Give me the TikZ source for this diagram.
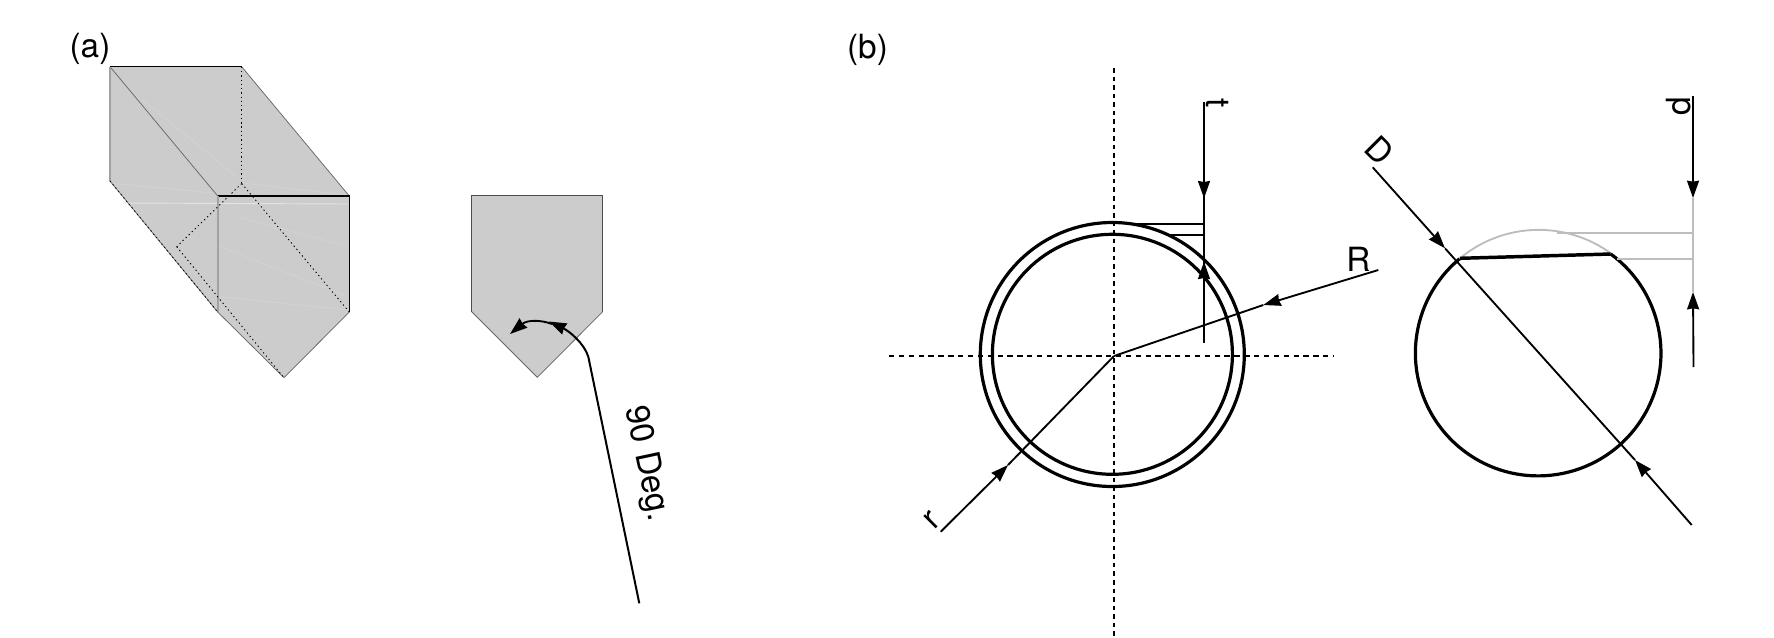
\documentclass[tikz,border=0pt]{standalone}
\usepackage{fontspec}
\setmainfont{TeX Gyre Heros}
\usetikzlibrary{arrows.meta}
\definecolor{solidgray}{HTML}{CCCCCC}
\definecolor{streak}{HTML}{D2D2D2}
\definecolor{edgegray}{HTML}{666666}
\definecolor{lightrule}{HTML}{BDBDBD}
\tikzset{
  lab/.style={inner sep=0pt,font=\fontsize{25}{29}\selectfont},
  body/.style={fill=solidgray,draw=none},
  thinedge/.style={draw=edgegray,line width=0.55pt},
  blackedge/.style={draw=black,line width=0.8pt},
  dots/.style={draw=black,line width=0.65pt,dash pattern=on 1pt off 2.2pt},
  streakline/.style={draw=streak,line width=0.7pt},
  centreh/.style={draw=black,line width=1.5pt,dash pattern=on 4pt off 3.4pt},
  centrev/.style={draw=black,line width=1.6pt,dash pattern=on 3.4pt off 3pt},
  ring/.style={draw=black,line width=2.4pt},
  dim/.style={draw=black,line width=1.4pt},
  tip/.style={-{Stealth[inset=0.8pt,length=13pt,width=9pt]}},
  hair/.style={draw=black,line width=1.2pt},
  ghost/.style={draw=lightrule,line width=1.4pt},
}
\begin{document}
\begin{tikzpicture}[x=0.75pt,y=-0.75pt]
\useasboundingbox (0,0) rectangle (1774,637);
\fill[white] (0,0) rectangle (1774,637);
% ---------- (a) prism
\node[lab] (la) at (90,49) {(a)};
\coordinate (A) at (110,66.7);
\coordinate (B) at (241.7,66.7);
\coordinate (C) at (217.7,196);
\coordinate (Dd) at (349.3,196);
\coordinate (E) at (110,181);
\coordinate (F) at (349.3,312);
\coordinate (G) at (284,377.7);
\coordinate (H) at (217.7,312);
\coordinate (I) at (241.7,183.5);
\coordinate (J) at (176.7,246.7);
\path[body] (A) -- (B) -- (Dd) -- (F) -- (G) -- (H) -- (E) -- cycle;
\draw[streakline] (111.7,183.3) -- (216.7,193.3);
\draw[streakline,draw=streak!60!white] (123,203) -- (348,204);
\draw[streakline] (243,183) -- (348,195);
\draw[streakline] (237,216.7) -- (348,246.7);
\draw[streakline] (220,246.7) -- (348,296.7);
\draw[streakline] (220,296.7) -- (348,310);
\draw[streakline] (143,100) -- (237,177);
\draw[thinedge] (A) -- (C);
\draw[thinedge] (B) -- (Dd);
\draw[blackedge] (A) -- (B);
\draw[blackedge] (C) -- (Dd) -- (F);
\draw[draw=lightrule!85!black,line width=1pt] (A) -- (E);
\draw[draw=lightrule!85!black,line width=1.2pt] (C) -- (H);
\draw[thinedge] (F) -- (G) -- (H) -- (E);
\draw[dots] (B) -- (I);
\draw[dots] (I) -- (J);
\draw[dots] (I) -- (F);
\draw[dots] (J) -- (G);
\draw[dots] (E) -- (H);
% ---------- (a) end view
\coordinate (P1) at (471.7,195);
\coordinate (P2) at (602.7,195);
\coordinate (P3) at (602.7,311.7);
\coordinate (P4) at (537.3,377.3);
\coordinate (P5) at (471.7,311.7);
\path[body] (P1) -- (P2) -- (P3) -- (P4) -- (P5) -- cycle;
\draw[thinedge,draw=black!70] (P5) -- (P1) -- (P2) -- (P3);
\draw[thinedge] (P3) -- (P4) -- (P5);
\coordinate (arcL) at (510,334);
\coordinate (arcR) at (552,324);
\coordinate (leadTip) at (549,321.5);
\coordinate (leadBend) at (588.3,356.7);
\coordinate (leadEnd) at (639.3,603.3);
\draw[dim,tip] (arcR) .. controls (540,319.5) and (527,320) .. (arcL);
\draw[dim,tip,line width=1.5pt] (leadEnd) -- (leadBend) .. controls (584,343) and (569,331) .. (leadTip);
\node[lab,rotate=-78,font=\fontsize{25}{29}\selectfont] (deg) at (646,464) {90 Deg.};
% ---------- (b) ring
\node[lab] (lb) at (867.5,50) {(b)};
\coordinate (O) at (1114,356);
\coordinate (vTop) at (1114,68);
\coordinate (vBot) at (1114,637);
\coordinate (hL) at (889,356);
\coordinate (hR) at (1334,356);
\draw[centrev] (vTop) -- (vBot);
\draw[centreh] (hL) -- (hR);
\node[ring,circle,minimum size=198pt,inner sep=0pt] (outer) at (1112.3,354.5) {};
\node[ring,circle,minimum size=180pt,inner sep=0pt] (inner) at (1112.4,354.3) {};
% t dimension
\coordinate (tTop) at (1204,101.7);
\coordinate (tA) at (1204,198.3);
\coordinate (tB) at (1204,261.7);
\coordinate (tBot) at (1204,342.7);
\coordinate (t1) at (1130,224);
\coordinate (t1e) at (1204,224);
\coordinate (t2) at (1170,235);
\coordinate (t2e) at (1204,235);
\draw[dim,tip] (tTop) -- (tA);
\draw[dim] (1204,190) -- (t1e) -- (t2e) -- (1204,270);
\draw[dim,tip] (tBot) -- (tB);
\draw[hair] (t1) -- (t1e);
\draw[hair] (t2) -- (t2e);
\node[lab,rotate=-90] (lt) at (1218,103) {t};
% R and r
\coordinate (Rtip) at (1263.3,305);
\coordinate (Rend) at (1378.3,270);
\draw[dim] (O) -- (Rtip);
\draw[dim,tip] (Rend) -- (Rtip);
\node[lab] (lR) at (1358.3,259) {R};
\coordinate (rtip) at (1008,465);
\coordinate (rend) at (940.7,531.7);
\draw[dim] (O) -- (rtip);
\draw[dim,tip] (rend) -- (rtip);
\node[lab,rotate=45] (lr) at (932,520) {r};
% ---------- (b) cut disc
\coordinate (cL) at (1460,258.3);
\coordinate (cR) at (1610.7,254);
\draw[ghost] (cL) arc[start angle=-129.8,end angle=-53.8,radius=122.8];
\draw[ring] (cR) arc[start angle=-53.8,end angle=230.2,radius=122.8];
\draw[ring,line width=2.6pt] (cL) -- (cR);
% d dimension
\coordinate (d1) at (1557,232.7);
\coordinate (d1e) at (1693,232.7);
\coordinate (d2) at (1617,259);
\coordinate (d2e) at (1693,259);
\coordinate (dTop) at (1693,96);
\coordinate (dA) at (1693,198);
\coordinate (dB) at (1693,292);
\coordinate (dBot) at (1693.5,367);
\draw[ghost] (d1) -- (d1e);
\draw[ghost] (d2) -- (d2e);
\draw[ghost] (dA) -- (dB);
\draw[dim,tip] (dTop) -- (dA);
\draw[dim,tip] (dBot) -- (dB);
\node[lab,rotate=90] (ld) at (1678.3,106) {d};
% D dimension
\coordinate (Dstart) at (1372.7,167.3);
\coordinate (DtipA) at (1445,248.3);
\coordinate (DtipB) at (1635,460);
\coordinate (Dend) at (1691.7,525);
\draw[dim,tip] (Dstart) -- (DtipA);
\draw[dim] (DtipA) -- (DtipB);
\draw[dim,tip] (Dend) -- (DtipB);
\node[lab,rotate=-45] (lD) at (1379.5,150) {D};
\end{tikzpicture}
\end{document}
